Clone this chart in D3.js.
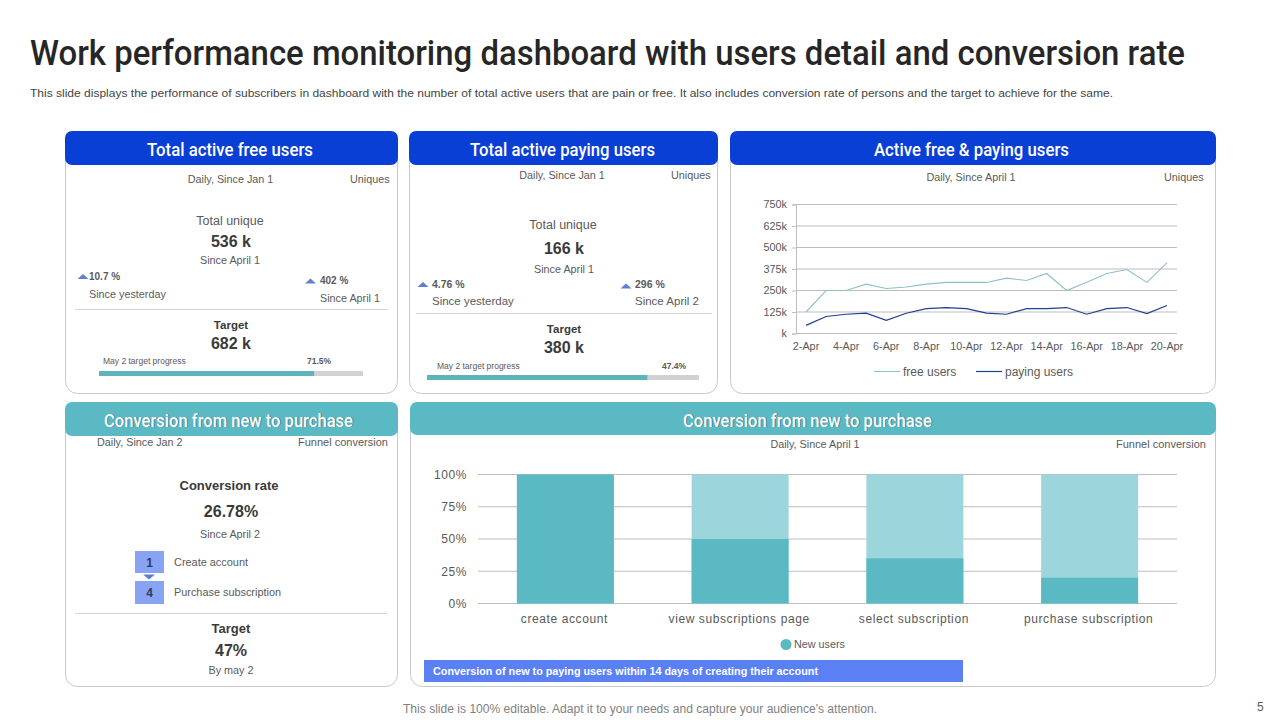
<!DOCTYPE html>
<html>
<head>
<meta charset="utf-8">
<script src="https://cdn.jsdelivr.net/npm/d3@7"></script>
<style>
  body { margin: 0; background: #fff; }
  text { font-family: "Liberation Sans", Arial, sans-serif; fill: #555; }
  .axis text { fill: #595959; }
</style>
</head>
<body>
<div class="canvas"></div>
<script>
// line chart data
const days = ['2-Apr','3-Apr','4-Apr','5-Apr','6-Apr','7-Apr','8-Apr','9-Apr','10-Apr','11-Apr','12-Apr','13-Apr','14-Apr','15-Apr','16-Apr','17-Apr','18-Apr','19-Apr','20-Apr'];
const freeUsers = [125,250,250,287,262,270,287,297,297,297,322,308,349,250,298,349,372,297,411];
const payingUsers = [47,99,112,118,76,118,145,151,145,118,112,145,145,151,112,145,151,116,163];
const lineTicks = [0,125,250,375,500,625,750];

// funnel chart data
const funnelSteps = ['create account','view subscriptions page','select subscription','purchase subscription'];
const newUsers = [100,50,35,20];
const funnelTicks = [0,25,50,75,100];

// progress bars, the drawn length in the picture differs from the printed label
const progressDrawn = [81.5,81];
const progressLabels = ['71.5%','47.4%'];

const BLUE = '#0a3fd6', TEAL = '#5bb9c4', TEAL_LIGHT = '#9dd5dc', NAVY = '#1f3f8f', LINE_FREE = '#8fc0c8';
const ARROW = '#5f7fd0', GRID = '#bdbdbd', DARK = '#3a3a3a';
const SMALL = 10.8;

const svg = d3.select('.canvas')
    .append('svg')
    .attr('width', 1280)
    .attr('height', 720)
    .style('display', 'block');

// small helper for all the loose labels
const label = (x, y, str, size, opts = {}) => {
    const t = svg.append('text')
        .attr('x', x)
        .attr('y', y)
        .attr('font-size', size)
        .attr('text-anchor', opts.anchor || 'start')
        .attr('font-weight', opts.weight || 400)
        .style('fill', opts.fill || '#5a5a5a')
        .text(str);
    if (opts.family) t.style('font-family', opts.family);
    if (opts.len) t.attr('textLength', opts.len).attr('lengthAdjust', 'spacingAndGlyphs');
    return t;
};

const hline = (x1, x2, y) => svg.append('line')
    .attr('x1', x1).attr('x2', x2).attr('y1', y).attr('y2', y)
    .attr('stroke', '#d4d4d4');

const triangle = (cx, cy, w, h, down) => svg.append('path')
    .attr('d', down
        ? `M${cx - w / 2},${cy - h / 2}L${cx + w / 2},${cy - h / 2}L${cx},${cy + h / 2}Z`
        : `M${cx - w / 2},${cy + h / 2}L${cx + w / 2},${cy + h / 2}L${cx},${cy - h / 2}Z`)
    .attr('fill', ARROW);

// card with coloured header, bottom corners of the header are rounded too
const panel = (x, y, w, h, headH, color, title, titleCx, titleLen, shadow) => {
    svg.append('rect')
        .attr('x', x + 0.5).attr('y', y + 0.5)
        .attr('width', w - 1).attr('height', h)
        .attr('rx', 12)
        .attr('fill', '#fff')
        .attr('stroke', '#c9c9c9');
    svg.append('rect')
        .attr('x', x).attr('y', y)
        .attr('width', w).attr('height', headH)
        .attr('rx', 7)
        .attr('fill', color);
    if (shadow) {
        label(titleCx + 1, y + 25, title, 17.5, {anchor: 'middle', weight: 500, fill: '#3c7f88', family: 'Roboto', len: titleLen});
    }
    label(titleCx, y + 24.5, title, 17.5, {anchor: 'middle', weight: 500, fill: '#fff', family: 'Roboto', len: titleLen});
};

// title block
label(30, 65, 'Work performance monitoring dashboard with users detail and conversion rate', 34.5,
    {weight: 500, fill: '#262626', family: 'Roboto', len: 1155});
label(30, 97, 'This slide displays the performance of subscribers in dashboard with the number of total active users that are pain or free.  It also includes conversion rate of persons and the target to  achieve for the same.', 11.5,
    {fill: '#444', len: 1083});
label(403, 713, "This slide is 100% editable. Adapt it to your needs and capture your audience's attention.", 12, {fill: '#7f7f7f', len: 474});
label(1257, 711, '5', 12);

// cards
panel(65, 131, 333, 262, 34, BLUE, 'Total active free users', 230, 166);
panel(409, 131, 309, 262, 34, BLUE, 'Total active paying users', 562.5, 185);
panel(730, 131, 486, 262, 34, BLUE, 'Active free & paying users', 971.5, 195);
panel(65, 402, 333, 284, 34, TEAL, 'Conversion from new to purchase', 228.5, 249, true);
panel(410, 402, 806, 284, 33, TEAL, 'Conversion from new to purchase', 807.5, 249, true);

// progress bar, track is the 100% domain
const progress = (x0, x1, y, drawn) => {
    const scale = d3.scaleLinear().domain([0, 100]).range([x0, x1]);
    svg.append('rect').attr('x', x0).attr('y', y).attr('width', x1 - x0).attr('height', 5).attr('fill', '#d2d2d2');
    svg.append('rect').attr('x', x0).attr('y', y).attr('width', scale(drawn) - x0).attr('height', 5).attr('fill', '#5fb3bb');
};

// card 1
label(230.5, 183, 'Daily, Since Jan 1', SMALL, {anchor: 'middle'});
label(350, 183, 'Uniques', SMALL);
label(230, 225, 'Total unique', 12.5, {anchor: 'middle'});
label(231, 247, '536 k', 16, {anchor: 'middle', weight: 700, fill: DARK});
label(230, 264, 'Since April 1', SMALL, {anchor: 'middle'});
triangle(83, 276.5, 11, 5);
label(89, 280, '10.7 %', 10, {weight: 700});
label(89, 298, 'Since yesterday', SMALL);
triangle(310.5, 281, 11, 5);
label(320, 284, '402 %', 10, {weight: 700});
label(320, 302, 'Since April 1', SMALL);
hline(75, 388, 309.5);
label(231, 329, 'Target', 11.5, {anchor: 'middle', weight: 700, fill: DARK});
label(231, 349, '682 k', 16, {anchor: 'middle', weight: 700, fill: DARK});
label(103, 364, 'May 2 target progress', 8.5);
label(307, 364, progressLabels[0], 8.5, {weight: 700});
progress(99, 363, 371, progressDrawn[0]);

// card 2
label(562, 179, 'Daily, Since Jan 1', SMALL, {anchor: 'middle'});
label(671, 179, 'Uniques', SMALL);
label(563, 229, 'Total unique', 12.5, {anchor: 'middle'});
label(564, 254, '166 k', 16, {anchor: 'middle', weight: 700, fill: DARK});
label(564, 273, 'Since April 1', SMALL, {anchor: 'middle'});
triangle(423, 284.5, 11, 5);
label(432, 288, '4.76 %', 10.5, {weight: 700});
label(432, 305, 'Since yesterday', 11.5);
triangle(626, 286, 11, 5);
label(635, 288, '296 %', 10.5, {weight: 700});
label(635, 305, 'Since April  2', 11.5);
hline(416, 712, 313.5);
label(564, 333, 'Target', 11.5, {anchor: 'middle', weight: 700, fill: DARK});
label(564, 353, '380 k', 16, {anchor: 'middle', weight: 700, fill: DARK});
label(437, 369, 'May 2 target progress', 8.5);
label(662, 369, progressLabels[1], 8.5, {weight: 700});
progress(427, 699, 375, progressDrawn[1]);

// card 3, line chart
label(971, 181, 'Daily, Since April 1', SMALL, {anchor: 'middle'});
label(1164, 181, 'Uniques', SMALL);

const lineX = d3.scaleBand().domain(days).range([796, 1177]);
const lineY = d3.scaleLinear().domain([0, 750]).range([333.5, 204.5]);

const lineYAxis = svg.append('g')
    .attr('class', 'axis')
    .attr('transform', 'translate(796, 0)')
    .call(d3.axisLeft(lineY).tickValues(lineTicks).tickSize(4).tickFormat(d => d + 'k'));
lineYAxis.selectAll('.tick text').text(d => d === 0 ? 'k' : d + 'k').attr('font-size', 10.8).attr('font-family', null).attr('x', -9);
lineYAxis.selectAll('line, path').attr('stroke', GRID);

svg.append('g')
    .selectAll('line')
    .data(lineTicks)
    .join('line')
    .attr('x1', 796).attr('x2', 1177)
    .attr('y1', d => lineY(d)).attr('y2', d => lineY(d))
    .attr('stroke', GRID);

const lineXAxis = svg.append('g')
    .attr('class', 'axis')
    .attr('transform', 'translate(0, 333.5)')
    .call(d3.axisBottom(lineX).tickValues(days.filter((d, i) => i % 2 === 0)).tickSize(0).tickPadding(9));
lineXAxis.selectAll('text').attr('font-size', 10.8).attr('font-family', null);
lineXAxis.select('.domain').remove();

const linePath = d3.line()
    .x((d, i) => lineX(days[i]) + lineX.bandwidth() / 2)
    .y(d => lineY(d));

svg.append('path').datum(freeUsers).attr('d', linePath).attr('fill', 'none').attr('stroke', LINE_FREE).attr('stroke-width', 1.1);
svg.append('path').datum(payingUsers).attr('d', linePath).attr('fill', 'none').attr('stroke', NAVY).attr('stroke-width', 1.2);

svg.append('line').attr('x1', 874).attr('x2', 900).attr('y1', 371.5).attr('y2', 371.5).attr('stroke', LINE_FREE).attr('stroke-width', 1.1);
label(903, 376, 'free users', 12);
svg.append('line').attr('x1', 976).attr('x2', 1002).attr('y1', 371.5).attr('y2', 371.5).attr('stroke', NAVY).attr('stroke-width', 1.2);
label(1005, 376, 'paying users', 12);

// card 4
label(97, 446, 'Daily, Since Jan 2', SMALL);
label(298, 446, 'Funnel conversion', SMALL, {len: 90});
label(229, 490, 'Conversion rate', 13, {anchor: 'middle', weight: 700, fill: DARK});
label(231, 517, '26.78%', 16, {anchor: 'middle', weight: 700, fill: DARK});
label(230, 538, 'Since April 2', SMALL, {anchor: 'middle'});
svg.append('rect').attr('x', 135).attr('y', 551).attr('width', 29).attr('height', 22).attr('fill', '#89a3f3');
triangle(149, 577, 12, 5, true);
svg.append('rect').attr('x', 135).attr('y', 581).attr('width', 29).attr('height', 23).attr('fill', '#89a3f3');
label(149.5, 567, '1', 12, {anchor: 'middle', weight: 700, fill: '#2f3b5c'});
label(149.5, 597, '4', 12, {anchor: 'middle', weight: 700, fill: '#2f3b5c'});
label(174, 566, 'Create account', 10.5, {len: 74});
label(174, 596, 'Purchase subscription', 10.5, {len: 107});
hline(75, 387, 613.5);
label(231, 633, 'Target', 13, {anchor: 'middle', weight: 700, fill: DARK});
label(231, 656, '47%', 16, {anchor: 'middle', weight: 700, fill: DARK});
label(231, 674, 'By may 2', SMALL, {anchor: 'middle'});

// card 5, stacked funnel bars
label(815, 448, 'Daily, Since April 1', SMALL, {anchor: 'middle'});
label(1116, 448, 'Funnel conversion', SMALL, {len: 90});

const barX = d3.scaleBand().domain(funnelSteps).range([478, 1177]).paddingInner(0.445).paddingOuter(0.2225);
const barY = d3.scaleLinear().domain([0, 100]).range([603.5, 474.5]);

const barYAxis = svg.append('g')
    .attr('class', 'axis')
    .attr('transform', 'translate(478, 0)')
    .call(d3.axisLeft(barY).tickValues(funnelTicks).tickSize(0).tickPadding(11).tickFormat(d => d + '%'));
barYAxis.selectAll('text').attr('font-size', 12).attr('font-family', null).attr('letter-spacing', 0.6);
barYAxis.select('.domain').remove();

svg.append('g')
    .selectAll('line')
    .data(funnelTicks)
    .join('line')
    .attr('x1', 478).attr('x2', 1177)
    .attr('y1', d => barY(d)).attr('y2', d => barY(d))
    .attr('stroke', GRID);

// light part is what's left up to 100%
svg.append('g')
    .selectAll('rect')
    .data(funnelSteps)
    .join('rect')
    .attr('x', d => barX(d))
    .attr('y', barY(100))
    .attr('width', barX.bandwidth())
    .attr('height', barY(0) - barY(100))
    .attr('fill', TEAL_LIGHT);

svg.append('g')
    .selectAll('rect')
    .data(newUsers)
    .join('rect')
    .attr('x', (d, i) => barX(funnelSteps[i]))
    .attr('y', d => barY(d))
    .attr('width', barX.bandwidth())
    .attr('height', d => barY(0) - barY(d))
    .attr('fill', TEAL);

const barXAxis = svg.append('g')
    .attr('class', 'axis')
    .attr('transform', 'translate(-1, 603.5)')
    .call(d3.axisBottom(barX).tickSize(0).tickPadding(11));
barXAxis.selectAll('text').attr('font-size', 12).attr('font-family', null).attr('letter-spacing', 0.6);
barXAxis.select('.domain').remove();

svg.append('circle').attr('cx', 786).attr('cy', 644.5).attr('r', 5.5).attr('fill', TEAL);
label(794, 648, 'New users', SMALL);

svg.append('rect').attr('x', 424).attr('y', 660).attr('width', 539).attr('height', 22).attr('fill', '#5b80f3');
label(433, 675, 'Conversion of new to paying users within 14 days of creating their account', 11,
    {weight: 700, fill: '#fff', len: 385});
</script>
</body>
</html>
